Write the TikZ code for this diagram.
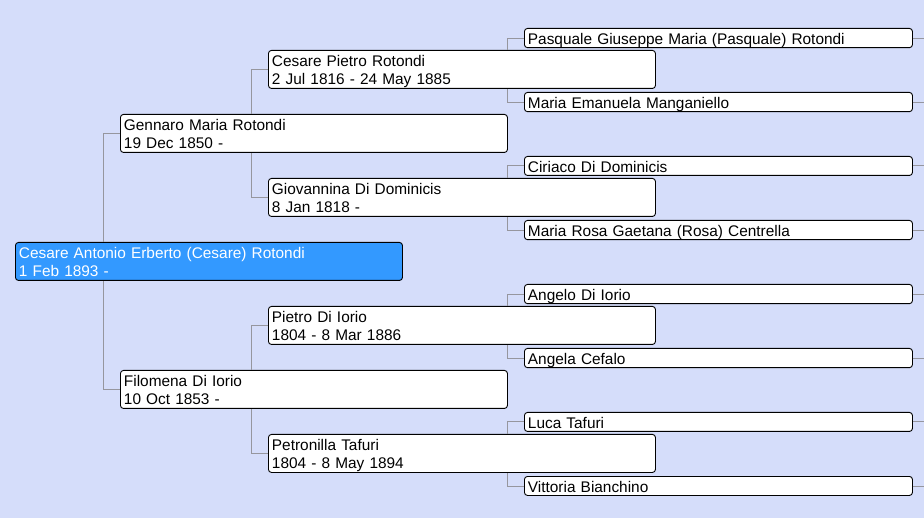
\documentclass[tikz,border=0pt]{standalone}
\usepackage{fontspec}
\setmainfont{Liberation Sans}
\usepackage{tikz}
\usetikzlibrary{calc}
\definecolor{paper}{RGB}{213,221,250}
\definecolor{linkgray}{RGB}{150,150,158}
\definecolor{selblue}{RGB}{51,153,255}
\newcommand{\twoline}[2]{\rule{0pt}{16pt}#1\\#2\rule[-4pt]{0pt}{4pt}}
\newcommand{\oneline}[1]{\rule[-3pt]{0pt}{19pt}#1}
\tikzset{
  person/.style={draw=black, line width=0.9pt, rounded corners=3pt, fill=white, anchor=north west,
    inner xsep=3.5pt, inner ysep=0pt, text width=380pt, minimum height=37pt, align=left,
    font=\fontsize{15.4}{18}\selectfont},
  ancestor/.style={person, text width=381pt, minimum height=19pt},
  selected/.style={person, fill=selblue, text=white},
  link/.style={draw=linkgray, line width=0.9pt}
}
\begin{document}
\begin{tikzpicture}[x=1pt,y=-1pt]
\fill[paper] (0,0) rectangle (924,518); % page background
\useasboundingbox (0,0) rectangle (924,518);
\coordinate (edge) at (924,0); % right border of the chart
\node[selected] (root) at (15,242) {\twoline{Cesare Antonio Erberto (Cesare) Rotondi}{1 Feb 1893 -}}; % start person
\node[person] (fa) at (120,114) {\twoline{Gennaro Maria Rotondi}{19 Dec 1850 -}}; % father
\node[person] (mo) at (120,370) {\twoline{Filomena Di Iorio}{10 Oct 1853 -}}; % mother
\node[person] (ff) at (268,50) {\twoline{Cesare Pietro Rotondi}{2 Jul 1816 - 24 May 1885}}; % paternal grandfather
\node[person] (fm) at (268,178) {\twoline{Giovannina Di Dominicis}{8 Jan 1818 -}}; % paternal grandmother
\node[person] (mf) at (268,306) {\twoline{Pietro Di Iorio}{1804 - 8 Mar 1886}}; % maternal grandfather
\node[person] (mm) at (268,434) {\twoline{Petronilla Tafuri}{1804 - 8 May 1894}}; % maternal grandmother
\node[ancestor] (fff) at (524,28) {\oneline{Pasquale Giuseppe Maria (Pasquale) Rotondi}};
\node[ancestor] (ffm) at (524,92) {\oneline{Maria Emanuela Manganiello}};
\node[ancestor] (fmf) at (524,156) {\oneline{Ciriaco Di Dominicis}};
\node[ancestor] (fmm) at (524,220) {\oneline{Maria Rosa Gaetana (Rosa) Centrella}};
\node[ancestor] (mff) at (524,284) {\oneline{Angelo Di Iorio}};
\node[ancestor] (mfm) at (524,348) {\oneline{Angela Cefalo}};
\node[ancestor] (mmf) at (524,412) {\oneline{Luca Tafuri}};
\node[ancestor] (mmm) at (524,476) {\oneline{Vittoria Bianchino}};
\foreach \c/\p/\s in {fa/root/north,mo/root/south,ff/fa/north,fm/fa/south,mf/mo/north,mm/mo/south,
  fff/ff/north,ffm/ff/south,fmf/fm/north,fmm/fm/south,mff/mf/north,mfm/mf/south,mmf/mm/north,mmm/mm/south}
  \draw[link] (\c.west) -- ++(-17,0) coordinate (k) -- (k |- \p.\s); % child to parent
\foreach \a in {fff,ffm,fmf,fmm,mff,mfm,mmf,mmm}
  \draw[link] (\a.east) -- (\a.east -| edge); % stub to next generation
\end{tikzpicture}
\end{document}
